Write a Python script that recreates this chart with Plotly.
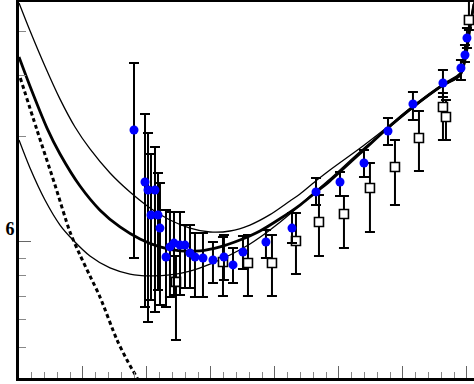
import plotly.graph_objects as go

# ---- curves (x, y) ----
thick_x = [0, 0.172, 0.4375, 0.641, 0.953, 1.266, 1.578, 1.891, 2.203, 2.516, 2.828, 3.141, 3.453, 3.766, 4.078, 4.391, 4.656, 4.859, 5.375, 5.797, 6.156, 6.625, 6.891, 6.969, 7.047, 7.109]
thick_y = [3.377, 2.786, 2.116, 1.784, 1.445, 1.233, 1.104, 1.020, 0.968, 0.943, 0.943, 0.968, 1.013, 1.075, 1.165, 1.275, 1.395, 1.495, 1.823, 2.145, 2.431, 2.810, 3.0, 3.311, 4.087, 4.786]

upper_x = [0, 0.172, 0.406, 0.641, 0.875, 1.109, 1.422, 1.734, 2.047, 2.359, 2.672, 2.984, 3.297, 3.609, 3.922, 4.234, 4.391, 4.656, 4.859, 5.375, 5.797, 6.156, 6.625, 6.891, 6.969, 7.047, 7.109]
upper_y = [4.818, 4.013, 3.178, 2.560, 2.131, 1.844, 1.574, 1.389, 1.251, 1.156, 1.096, 1.068, 1.075, 1.118, 1.197, 1.310, 1.371, 1.503, 1.606, 1.881, 2.160, 2.447, 2.828, 3.040, 3.377, 4.197, 4.850]

lower_x = [0, 0.172, 0.406, 0.641, 0.844, 1.109, 1.422, 1.734, 2.047, 2.359, 2.672, 2.984, 3.297, 3.609, 3.922, 4.234, 4.547, 4.859, 5.375, 5.797, 6.156, 6.625, 6.891, 6.969, 7.047, 7.109]
lower_y = [1.956, 1.627, 1.318, 1.118, 1.013, 0.912, 0.843, 0.810, 0.800, 0.805, 0.826, 0.865, 0.918, 0.987, 1.082, 1.202, 1.353, 1.514, 1.844, 2.131, 2.415, 2.791, 2.981, 3.268, 4.035, 4.724]

dotted_x = [0.02, 0.281, 0.5625, 0.797, 0.953, 1.109, 1.266, 1.531, 1.6875, 1.844, 2.0]
dotted_y = [2.942, 2.089, 1.455, 1.068, 0.918, 0.800, 0.696, 0.525, 0.460, 0.409, 0.363]

# ---- blue points: x, y, upper end, lower end of error bar ----
blue_x = [1.797, 1.969, 2.016, 2.125, 2.0625, 2.172, 2.203, 2.297, 2.359, 2.422, 2.516, 2.594, 2.672, 2.75, 2.875, 3.031, 3.203, 3.344, 3.5, 3.859, 4.266, 4.641, 5.016, 5.391, 5.766, 6.156, 6.625, 6.906, 6.969, 7.0]
blue_y = [2.089, 1.484, 1.408, 1.408, 1.194, 1.194, 1.096, 0.906, 0.968, 0.993, 0.980, 0.980, 0.930, 0.906, 0.900, 0.888, 0.906, 0.860, 0.936, 1.0, 1.096, 1.390, 1.484, 1.682, 2.075, 2.479, 2.847, 3.141, 3.422, 3.827]
blue_hi = [3.246, 2.322, 2.048, 1.868, 1.784, 1.574, 1.474, 1.234, 1.218, 1.218, 1.218, 1.118, 1.118, 1.061, 1.061, 1.0, 1.047, 0.961, 1.040, 1.082, 1.210, 1.523, 1.584, 1.832, 2.261, 2.683, 3.100, 3.311, 3.655, 4.087]
blue_lo = [0.900, 0.652, 0.591, 0.631, 0.683, 0.729, 0.661, 0.652, 0.696, 0.706, 0.706, 0.739, 0.739, 0.696, 0.696, 0.764, 0.779, 0.764, 0.837, 0.900, 0.993, 1.275, 1.353, 1.533, 1.893, 2.231, 2.596, 2.904, 3.268, 3.584]

# ---- open squares: x, y, upper end, lower end ----
box_x = [2.453, 3.1875, 3.578, 3.953, 4.328, 4.6875, 5.078, 5.484, 5.875, 6.25, 6.625, 6.672, 7.031]
box_y = [0.769, 0.877, 0.871, 0.871, 1.007, 1.141, 1.202, 1.427, 1.638, 1.982, 2.431, 2.276, 4.308]
box_hi = [0.912, 1.033, 1.047, 1.047, 1.210, 1.362, 1.353, 1.682, 1.956, 2.368, 2.665, 2.546, 6.0]
box_lo = [0.525, 0.701, 0.701, 0.701, 0.810, 0.912, 0.961, 1.068, 1.275, 1.595, 1.956, 1.956, 4.035]

y_tickvals = [1]
y_ticktext = ["6"]
y_minor = [0.5, 0.6, 0.7, 0.8, 0.9, 2, 3, 4]

fig = go.Figure()

fig.add_trace(go.Scatter(x=upper_x, y=upper_y, mode="lines",
                         line=dict(color="black", width=1.3, shape="spline", smoothing=0.8), showlegend=False))
fig.add_trace(go.Scatter(x=lower_x, y=lower_y, mode="lines",
                         line=dict(color="black", width=1.3, shape="spline", smoothing=0.8), showlegend=False))
fig.add_trace(go.Scatter(x=thick_x, y=thick_y, mode="lines",
                         line=dict(color="black", width=2.8, shape="spline", smoothing=0.8), showlegend=False))
fig.add_trace(go.Scatter(x=dotted_x, y=dotted_y, mode="lines",
                         line=dict(color="black", width=3, dash="4px,3px", shape="spline", smoothing=0.8), showlegend=False))

fig.add_trace(go.Scatter(
    x=box_x, y=box_y, mode="markers",
    marker=dict(symbol="square", size=9, color="white", line=dict(color="black", width=1.6)),
    error_y=dict(type="data", symmetric=False,
                 array=[h - v for h, v in zip(box_hi, box_y)],
                 arrayminus=[v - l for v, l in zip(box_y, box_lo)],
                 color="black", thickness=2, width=5),
    showlegend=False))

fig.add_trace(go.Scatter(
    x=blue_x, y=blue_y, mode="markers",
    marker=dict(symbol="circle", size=9, color="#0000ff", line=dict(width=0)),
    error_y=dict(type="data", symmetric=False,
                 array=[h - v for h, v in zip(blue_hi, blue_y)],
                 arrayminus=[v - l for v, l in zip(blue_y, blue_lo)],
                 color="black", thickness=2, width=5),
    showlegend=False))

fig.update_layout(
    width=474, height=384,
    margin=dict(l=19, r=0, t=2, b=6, autoexpand=False),
    paper_bgcolor="white", plot_bgcolor="white",
    xaxis=dict(range=[0, 7.11], showgrid=False, zeroline=False, automargin=False,
               showline=True, linecolor="black", linewidth=3, mirror=True,
               ticks="inside", ticklen=12, tickwidth=1, tickcolor="#666",
               tick0=0, dtick=1, showticklabels=False,
               minor=dict(ticks="inside", ticklen=6, tickwidth=1, tickcolor="#888", dtick=0.2, tick0=0, showgrid=False)),
    yaxis=dict(type="log", range=[-0.3886, 0.6857], showgrid=False, zeroline=False, automargin=False,
               showline=True, linecolor="black", linewidth=3,
               ticks="inside", ticklen=12, tickwidth=1, tickcolor="#666",
               tickmode="array", tickvals=y_tickvals, ticktext=y_ticktext,
               ticklabelposition="outside top", ticklabelstandoff=-2,
               tickfont=dict(family="Liberation Serif", size=18, color="black", weight="bold"),
               minor=dict(ticks="inside", ticklen=7, tickwidth=1, tickcolor="#888",
                          tickmode="array", tickvals=y_minor, showgrid=False)),
)

fig.write_html("out.html", config={"displayModeBar": False, "staticPlot": True},
               post_script="document.body.style.margin='0';document.body.style.padding='0';document.body.style.overflow='hidden';")
